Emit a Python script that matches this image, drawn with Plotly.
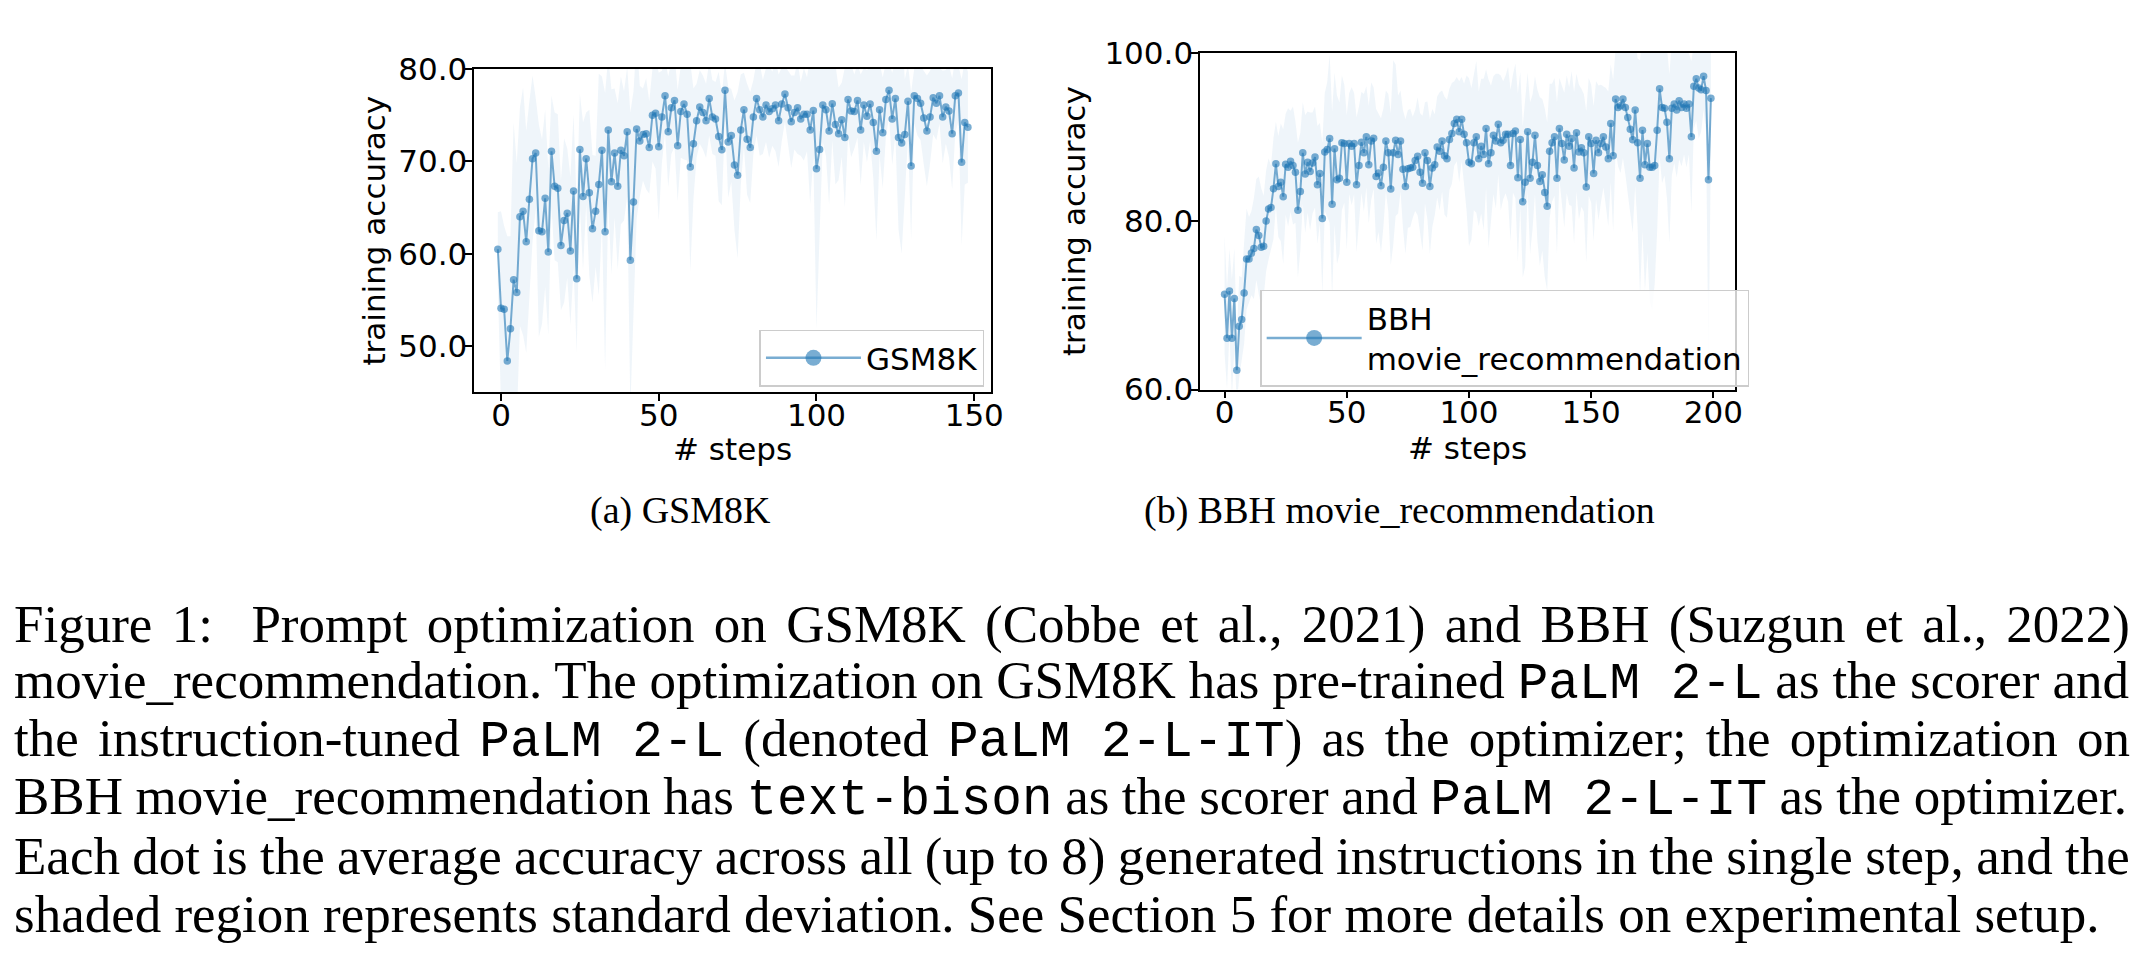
import plotly.graph_objects as go

W, H = 2146, 960

# ---------------- data ----------------
gsm_steps = list(range(-1, 149))
gsm_acc = [60.5, 54.1, 54.0, 48.4, 51.9, 57.2, 55.8, 64.0, 64.6, 61.3,
           65.9, 70.3, 70.9, 62.5, 62.4, 66.0, 60.2, 71.1, 67.3, 67.1,
           60.9, 63.6, 64.4, 60.3, 66.8, 57.3, 71.3, 66.2, 70.3, 66.6,
           62.7, 64.6, 67.5, 71.2, 62.4, 73.4, 67.8, 70.9, 67.3, 71.2,
           70.6, 73.2, 59.3, 65.6, 73.5, 72.2, 72.9, 73.0, 71.5, 75.0,
           75.2, 71.6, 74.8, 77.1, 73.2, 75.8, 76.6, 71.7, 75.4, 76.2,
           75.1, 69.4, 71.9, 74.4, 75.9, 75.3, 74.4, 76.8, 74.8, 74.6,
           72.7, 71.25, 77.7, 72.1, 72.8, 69.6, 68.5, 73.4, 75.6, 72.4,
           71.5, 74.8, 76.8, 75.6, 74.8, 76.1, 75.4, 75.7, 76.1, 74.4,
           76.2, 77.3, 75.8, 74.3, 75.3, 75.8, 74.6, 75.1, 75.1, 73.4,
           75.5, 69.2, 71.3, 76.1, 75.6, 73.3, 76.25, 74.0, 73.0, 74.5,
           72.6, 76.7, 75.45, 75.4, 76.6, 73.4, 76.1, 74.9, 76.2, 74.2,
           71.1, 75.6, 73.1, 76.7, 77.7, 74.6, 76.8, 72.6, 72.0, 72.9,
           76.5, 69.5, 77.1, 76.8, 76.3, 74.7, 73.3, 74.8, 76.9, 76.3,
           77.1, 74.8, 75.9, 75.45, 73.0, 77.1, 77.4, 69.9, 74.2, 73.7]
gsm_std = [4, 10.5, 9, 13.5, 10, 17, 14, 11.8, 13.4, 12,
           10.6, 9, 6, 11.5, 10, 9.6, 9, 6, 8, 8,
           7, 8.9, 7, 8, 8.3, 8, 6, 8, 5, 9,
           8, 6, 12, 8, 15, 8, 10, 7, 9, 8,
           7, 7, 16, 12, 9.7, 6, 5, 6, 5, 5,
           6, 8, 5, 4, 6, 5, 5, 6, 5, 6,
           5, 11.3, 6, 4, 4, 4, 4, 4, 4, 4,
           7, 6, 3, 6, 5, 7, 9, 6, 4, 6,
           6, 4, 4, 5, 4, 4, 5, 4, 5, 5,
           4, 3, 4, 5, 4, 5, 4, 5, 4, 8,
           5, 17.4, 9, 4, 5, 8, 4, 6.5, 5, 4,
           7.6, 4, 5, 4, 4, 6, 4, 5, 4, 6,
           9.7, 5, 6, 4, 3, 5, 4, 10, 12, 6,
           4, 8, 3, 4, 4, 5, 6, 5, 4, 4,
           3, 5, 4, 5, 6, 4, 3, 9, 6.7, 6]

bbh_steps = list(range(0, 200))
bbh_acc = [71.3, 66.1, 71.7, 66.1, 70.8, 62.3, 67.5, 68.3, 71.45, 75.5,
           75.5, 76.2, 76.75, 79.0, 78.3, 76.9, 77.0, 80.0, 81.45, 81.6,
           83.85, 86.8, 84.1, 84.6, 82.9, 86.75, 86.4, 87.1, 86.6, 85.8,
           81.3, 83.5, 88.1, 85.6, 87.0, 85.9, 86.9, 87.6, 84.3, 85.65,
           80.3, 88.2, 88.5, 89.8, 82.0, 88.6, 84.9, 85.1, 89.3, 89.2,
           84.6, 89.2, 88.9, 89.2, 84.3, 86.6, 89.35, 88.1, 90.0, 86.7,
           89.5, 89.85, 85.3, 85.7, 84.2, 86.4, 89.5, 88.1, 83.8, 88.1,
           89.6, 87.9, 89.5, 86.15, 84.1, 86.2, 86.3, 86.4, 87.2, 87.7,
           85.8, 84.5, 88.1, 87.2, 84.1, 86.3, 86.7, 88.8, 88.3, 89.5,
           87.75, 87.4, 89.7, 90.4, 91.6, 92.1, 90.6, 92.1, 90.3, 89.3,
           87.0, 86.8, 89.3, 90.0, 87.4, 88.9, 87.9, 91.0, 86.8, 88.1,
           90.2, 89.5, 91.5, 89.3, 89.6, 90.3, 90.3, 86.6, 90.4, 90.7,
           85.15, 89.7, 82.3, 84.6, 90.6, 85.1, 87.0, 90.2, 86.6, 84.7,
           85.5, 83.4, 81.75, 88.3, 89.3, 90.0, 85.1, 91.0, 89.2, 87.25,
           90.3, 88.9, 89.8, 86.3, 90.5, 88.2, 88.7, 88.1, 84.05, 90.0,
           89.2, 85.65, 89.6, 88.1, 89.2, 90.0, 88.8, 87.4, 91.6, 87.75,
           94.5, 93.5, 93.7, 94.5, 93.5, 92.3, 90.9, 89.65, 93.2, 89.3,
           85.1, 90.8, 86.7, 89.2, 86.4, 86.4, 86.6, 90.8, 95.7, 93.5,
           93.4, 91.75, 87.4, 93.4, 93.9, 93.2, 94.3, 93.5, 93.9, 93.4,
           93.9, 90.0, 96.0, 96.9, 95.8, 95.6, 97.2, 95.5, 84.9, 94.6]
bbh_std = [7, 6, 5, 7, 6, 4, 6, 5, 6, 6,
           5, 5, 6, 6, 7, 7, 6, 6, 6, 5,
           6, 5, 6, 7, 8, 6, 7, 6, 7, 6,
           8, 7, 6, 7, 6, 7, 6, 6, 7, 6,
           9, 7, 8, 10, 11, 9, 10, 9, 8, 7,
           8, 6, 7, 6, 8, 7, 6, 7, 6, 7,
           7, 6, 8, 7, 8, 7, 6, 7, 9, 11,
           9, 7, 6, 7, 8, 7, 7, 6, 6, 7,
           7, 8, 6, 7, 8, 7, 6, 6, 7, 6,
           7, 7, 6, 6, 5, 5, 6, 5, 6, 8,
           10, 9, 8, 9, 8, 8, 9, 7, 10, 8,
           7, 8, 6, 8, 7, 7, 8, 9, 7, 8,
           10, 8, 9, 10, 7, 9, 8, 7, 9, 10,
           9, 10, 10, 8, 7, 7, 9, 6, 7, 8,
           7, 7, 8, 9, 7, 8, 7, 7, 9, 7,
           7, 8, 7, 8, 7, 6, 7, 8, 7, 9,
           6, 7, 8, 7, 8, 9, 10, 11, 9, 10,
           14, 12, 15, 13, 16, 17, 14, 12, 8, 9,
           8, 9, 10, 8, 7, 8, 7, 7, 6, 7,
           6, 9, 5, 5, 6, 5, 4, 5, 22, 6]

gsm_yticks = [50, 60, 70, 80]
gsm_xticks = [0, 50, 100, 150]
bbh_yticks = [60, 80, 100]
bbh_xticks = [0, 50, 100, 150, 200]

caption_lines = [
    [("Figure 1:  Prompt optimization on GSM8K (Cobbe et al., 2021) and BBH (Suzgun et al., 2022)", False)],
    [("movie_recommendation. The optimization on GSM8K has pre-trained ", False), ("PaLM 2-L", True),
     (" as the scorer and", False)],
    [("the instruction-tuned ", False), ("PaLM 2-L", True), (" (denoted ", False), ("PaLM 2-L-IT", True),
     (") as the optimizer; the optimization on", False)],
    [("BBH movie_recommendation has ", False), ("text-bison", True), (" as the scorer and ", False),
     ("PaLM 2-L-IT", True), (" as the optimizer.", False)],
    [("Each dot is the average accuracy across all (up to 8) generated instructions in the single step, and the", False)],
    [("shaded region represents standard deviation. See Section 5 for more details on experimental setup.", False)],
]

# ---------------- style ----------------
BLUE = "rgba(31,119,180,0.6)"
BAND = "rgba(31,119,180,0.07)"
SANS = "DejaVu Sans"
SERIF = "Liberation Serif"
MONO = "Liberation Mono"
TICK_FS = 31


def px(x):
    return x / W


def py(y):
    return 1 - y / H


fig = go.Figure()


def add_series(xs, ys, sd, xa, ya):
    lo = [m - s for m, s in zip(ys, sd)]
    hi = [m + s for m, s in zip(ys, sd)]
    fig.add_trace(go.Scatter(x=xs, y=lo, mode="lines", line=dict(width=0, color="rgba(0,0,0,0)"),
                             showlegend=False, hoverinfo="skip", xaxis=xa, yaxis=ya))
    fig.add_trace(go.Scatter(x=xs, y=hi, mode="lines", line=dict(width=0, color="rgba(0,0,0,0)"),
                             fill="tonexty", fillcolor=BAND, showlegend=False, hoverinfo="skip",
                             xaxis=xa, yaxis=ya))
    fig.add_trace(go.Scatter(x=xs, y=ys, mode="lines+markers",
                             line=dict(width=2, color=BLUE),
                             marker=dict(size=7.5, color=BLUE, line=dict(width=0)),
                             showlegend=False, xaxis=xa, yaxis=ya))


add_series(gsm_steps, gsm_acc, gsm_std, "x", "y")
add_series(bbh_steps, bbh_acc, bbh_std, "x2", "y2")

# legend-only entries (bigger symbol like the original legend)
fig.add_trace(go.Scatter(x=[None], y=[None], mode="lines+markers", name="GSM8K",
                         line=dict(width=2.5, color=BLUE), marker=dict(size=16, color=BLUE),
                         xaxis="x", yaxis="y", legend="legend"))
fig.add_trace(go.Scatter(x=[None], y=[None], mode="lines+markers", name="BBH<br>movie_recommendation",
                         line=dict(width=2.5, color=BLUE), marker=dict(size=16, color=BLUE),
                         xaxis="x2", yaxis="y2", legend="legend2"))

axis_common = dict(showline=True, linecolor="black", linewidth=1.8, mirror=True,
                   ticks="outside", ticklen=7, tickwidth=1.6, tickcolor="black",
                   showgrid=False, zeroline=False,
                   tickfont=dict(family=SANS, size=TICK_FS, color="black"))

legend_common = dict(bgcolor="rgba(255,255,255,0.8)", bordercolor="#cccccc", borderwidth=1.5,
                     font=dict(family=SANS, size=TICK_FS, color="black"),
                     xanchor="right", yanchor="bottom", itemwidth=95, tracegroupgap=0)

fig.update_layout(
    width=W, height=H, margin=dict(l=0, r=0, t=0, b=0),
    paper_bgcolor="white", plot_bgcolor="white",
    xaxis=dict(domain=[px(477), px(997)], range=[-8.45, 155.45], tickvals=gsm_xticks,
               anchor="y", ticklabelstandoff=-13, **axis_common),
    yaxis=dict(domain=[py(389), py(53)], range=[45, 80], tickvals=gsm_yticks, tickformat=".1f",
               anchor="x", ticklabelstandoff=-8, **axis_common),
    xaxis2=dict(domain=[px(1207), px(1745)], range=[-9.95, 208.95], tickvals=bbh_xticks,
                anchor="y2", ticklabelstandoff=-13, **axis_common),
    yaxis2=dict(domain=[py(386), py(36)], range=[60, 100], tickvals=bbh_yticks, tickformat=".1f",
                anchor="x2", ticklabelstandoff=-8, **axis_common),
    legend=dict(x=px(990), y=py(383), **legend_common),
    legend2=dict(x=px(1759), y=py(383), **legend_common),
    showlegend=True,
)

ann = []


def text_ann(x, y, text, size, family, angle=0, xanchor="center"):
    ann.append(dict(x=px(x), y=py(y), xref="paper", yref="paper", text=text, showarrow=False,
                    textangle=angle, xanchor=xanchor, yanchor="middle",
                    font=dict(family=family, size=size, color="black")))


# axis titles
text_ann(376, 221, "training accuracy", TICK_FS, SANS, angle=-90)
text_ann(1080, 211, "training accuracy", TICK_FS, SANS, angle=-90)
text_ann(737, 448, "# steps", TICK_FS, SANS)
text_ann(1476, 447, "# steps", TICK_FS, SANS)

# sub-captions
text_ann(591, 512, "(a) GSM8K", 38, SERIF, xanchor="left")
text_ann(1148, 512, "(b) BBH movie_recommendation", 38, SERIF, xanchor="left")

# caption with justified lines (Times metrics to compute word spacing)
TIMES = {' ': 250, '!': 333, '(': 333, ')': 333, ',': 250, '-': 333, '.': 250, ':': 278, ';': 278,
         '_': 500, 'A': 722, 'B': 667, 'C': 667, 'D': 722, 'E': 611, 'F': 556, 'G': 722, 'H': 722,
         'I': 333, 'J': 389, 'K': 722, 'L': 611, 'M': 889, 'N': 722, 'O': 722, 'P': 556, 'Q': 722,
         'R': 667, 'S': 556, 'T': 611, 'U': 722, 'V': 722, 'W': 944, 'X': 722, 'Y': 722, 'Z': 611,
         'a': 444, 'b': 500, 'c': 444, 'd': 500, 'e': 444, 'f': 333, 'g': 500, 'h': 500, 'i': 278,
         'j': 278, 'k': 500, 'l': 278, 'm': 778, 'n': 500, 'o': 500, 'p': 500, 'q': 500, 'r': 333,
         's': 389, 't': 278, 'u': 500, 'v': 500, 'w': 722, 'x': 500, 'y': 500, 'z': 444}
for dch in "0123456789":
    TIMES[dch] = 500

CAP_FS = 53
MONO_FS = 51
CAP_LEFT = 12
CAP_RIGHT = 2128
BASE0 = 648
LEAD = 60.2

for i, segs in enumerate(caption_lines):
    natural = 0.0
    nsp = 0
    for t, mono in segs:
        if mono:
            natural += len(t) * 0.6 * MONO_FS
        else:
            natural += sum(TIMES.get(c, 500) for c in t) / 1000 * CAP_FS
            nsp += t.count(" ")
    justify = i < len(caption_lines) - 1
    ws = (CAP_RIGHT - CAP_LEFT - natural) / nsp if (justify and nsp) else 0.0
    parts = []
    for t, mono in segs:
        if mono:
            parts.append('<span style="font-family:%s;font-size:%dpx">%s</span>' % (MONO, MONO_FS, t))
        else:
            parts.append('<span style="word-spacing:%.2fpx">%s</span>' % (ws, t))
    base = BASE0 + i * LEAD
    text_ann(CAP_LEFT, base - 0.3375 * CAP_FS, "".join(parts), CAP_FS, SERIF, xanchor="left")

fig.update_layout(annotations=ann)
fig.write_html("out.html")
